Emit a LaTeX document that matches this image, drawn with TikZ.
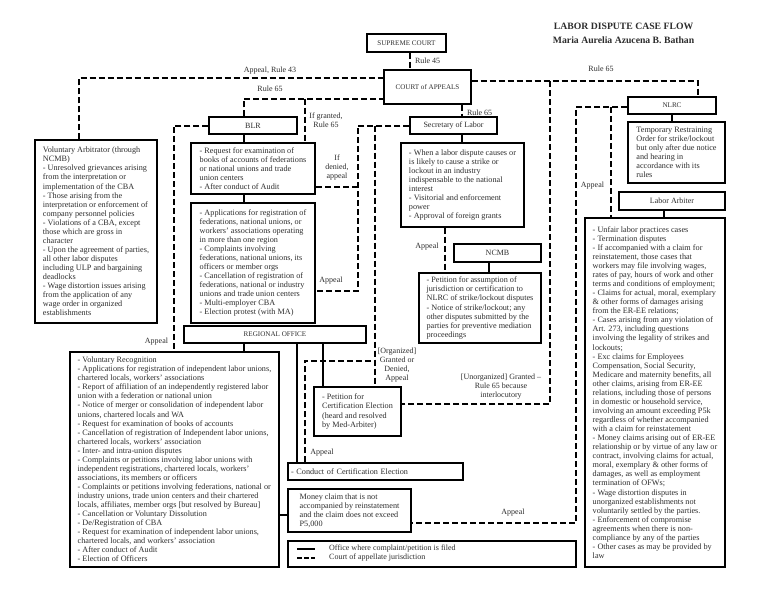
\documentclass[tikz,border=0pt]{standalone}
\usepackage{fontspec}
\setmainfont{Liberation Serif}
\usepackage{tikz}
\usetikzlibrary{positioning}
\definecolor{inkgray}{RGB}{45,45,45}

\begin{document}
\begin{tikzpicture}[x=1pt, y=-1pt,
				box/.style={draw, line width=1.3pt, inner xsep=6pt, inner ysep=2pt, align=left, text=inkgray, font=\fontsize{8.2}{9.06}\selectfont},
				office/.style={draw, line width=1.3pt, inner sep=0pt, text=inkgray, font=\fontsize{8}{9}\selectfont},
				caps/.style={font=\fontsize{7.1}{9}\selectfont},
				file/.style={line width=2pt},
				appeal/.style={line width=2pt, dash pattern=on 6pt off 3pt},
				lbl/.style={text=inkgray, font=\fontsize{8}{9}\selectfont, align=center, inner sep=1pt}]
				\useasboundingbox (0,0) rectangle (768,594);
				
				\node[text=inkgray, align=center, font=\fontsize{9.7}{14}\selectfont\bfseries] (title) at (623.6,33) {LABOR DISPUTE CASE FLOW\\Maria Aurelia Azucena B. Bathan};
				
				\node[office, caps, minimum width=79pt, minimum height=18pt] (sc) at (406.5,43) {SUPREME COURT};
				\node[office, caps, minimum width=87pt, minimum height=34pt] (coa) at (427.5,87) {COURT of APPEALS};
				\node[office, minimum width=88pt, minimum height=17pt] (blr) at (253,125.5) {BLR};
				\node[office, minimum width=87pt, minimum height=17pt] (sec) at (453.5,125.5) {Secretary of Labor};
				\node[office, caps, minimum width=88pt, minimum height=17pt] (nlrc) at (672,105.5) {NLRC};
				\node[office, minimum width=106pt, minimum height=18pt] (la) at (672,201) {Labor Arbiter};
				\node[office, minimum width=87pt, minimum height=18pt] (ncmb) at (497.5,253) {NCMB};
				\node[office, caps, minimum width=182pt, minimum height=17pt] (ro) at (275,334.5) {REGIONAL OFFICE};
				
				\node[box, minimum width=122pt, minimum height=183pt] (va) at (96,231.5) {Voluntary Arbitrator (through\\NCMB)\\- Unresolved grievances arising\\from the interpretation or\\implementation of the CBA\\- Those arising from the\\interpretation or enforcement of\\company personnel policies\\- Violations of a CBA, except\\those which are gross in\\character\\- Upon the agreement of parties,\\all other labor disputes\\including ULP and bargaining\\deadlocks\\- Wage distortion issues arising\\from the application of any\\wage order in organized\\establishments};
				\node[box, minimum width=124pt, minimum height=51pt] (blrone) at (253,168.5) {- Request for examination of\\books of accounts of federations\\or national unions and trade\\union centers\\- After conduct of Audit};
				\node[box, minimum width=124pt, minimum height=120pt] (blrtwo) at (253,263) {- Applications for registration of\\federations, national unions, or\\workers' associations operating\\in more than one region\\- Complaints involving\\federations, national unions, its\\officers or member orgs\\- Cancellation of registration of\\federations, national or industry\\unions and trade union centers\\- Multi-employer CBA\\- Election protest (with MA)};
				\node[box, minimum width=123pt, minimum height=84pt] (seclist) at (462.5,185) {- When a labor dispute causes or\\is likely to cause a strike or\\lockout in an industry\\indispensable to the national\\interest\\- Visitorial and enforcement\\power\\- Approval of foreign grants};
				\node[box, minimum width=122pt, minimum height=70pt] (ncmblist) at (480,308) {- Petition for assumption of\\jurisdiction or certification to\\NLRC of strike/lockout disputes\\- Notice of strike/lockout; any\\other disputes submitted by the\\parties for preventive mediation\\proceedings};
				\node[box, minimum width=97pt, minimum height=61pt] (tro) at (676.5,152.5) {Temporary Restraining\\Order for strike/lockout\\but only after due notice\\and hearing in\\accordance with its\\rules};
				\node[box, minimum width=140pt, minimum height=349pt] (lalist) at (655,392.5) {- Unfair labor practices cases\\- Termination disputes\\- If accompanied with a claim for\\reinstatement, those cases that\\workers may file involving wages,\\rates of pay, hours of work and other\\terms and conditions of employment;\\- Claims for actual, moral, exemplary\\\& other forms of damages arising\\from the ER-EE relations;\\- Cases arising from any violation of\\Art. 273, including questions\\involving the legality of strikes and\\lockouts;\\- Exc claims for Employees\\Compensation, Social Security,\\Medicare and maternity benefits, all\\other claims, arising from ER-EE\\relations, including those of persons\\in domestic or household service,\\involving an amount exceeding P5k\\regardless of whether accompanied\\with a claim for reinstatement\\- Money claims arising out of ER-EE\\relationship or by virtue of any law or\\contract, involving claims for actual,\\moral, exemplary \& other forms of\\damages, as well as employment\\termination of OFWs;\\- Wage distortion disputes in\\unorganized establishments not\\voluntarily settled by the parties.\\- Enforcement of compromise\\agreements when there is non-\\compliance by any of the parties\\- Other cases as may be provided by\\law};
				\node[box, minimum width=209pt, minimum height=215pt] (rolist) at (174.5,459.5) {- Voluntary Recognition\\- Applications for registration of independent labor unions,\\chartered locals, workers' associations\\- Report of affiliation of an independently registered labor\\union with a federation or national union\\- Notice of merger or consolidation of independent labor\\unions, chartered locals and WA\\- Request for examination of books of accounts\\- Cancellation of registration of Independent labor unions,\\chartered locals, workers' association\\- Inter- and intra-union disputes\\- Complaints or petitions involving labor unions with\\independent registrations, chartered locals, workers'\\associations, its members or officers\\- Complaints or petitions involving federations, national or\\industry unions, trade union centers and their chartered\\locals, affiliates, member orgs [but resolved by Bureau]\\- Cancellation or Voluntary Dissolution\\- De/Registration of CBA\\- Request for examination of independent labor unions,\\chartered locals, and workers' association\\- After conduct of Audit\\- Election of Officers};
				\node[box, minimum width=87pt, minimum height=49pt] (petition) at (357.5,411.5) {- Petition for\\Certification Election\\(heard and resolved\\by Med-Arbiter)};
				\node[box, inner xsep=3pt, text width=169pt, minimum height=17pt] (conduct) at (375.5,471.5) {- Conduct of Certification Election};
				\node[box, minimum width=123pt, minimum height=43pt] (money) at (349.5,510.5) {Money claim that is not\\accompanied by reinstatement\\and the claim does not exceed\\P5,000};
				\node[box, minimum width=288pt, minimum height=26pt] (legend) at (432,554) {};
				
				\coordinate (r43) at (79,78);
				\coordinate (blrr65) at (244,98.7);
				\coordinate (blrgr) at (305,98.7);
				\coordinate (r45) at (410,0);
				\coordinate (secr65) at (462,0);
				\coordinate (secden) at (358,125.5);
				\coordinate (blroneap) at (358,186.7);
				\coordinate (blrtwoap) at (358,290.7);
				\coordinate (secorg) at (375,125.5);
				\coordinate (ccejoin) at (305,360.7);
				\coordinate (nlrcr65) at (698,81);
				\coordinate (unorg) at (550,81);
				\coordinate (unorgb) at (550,404.3);
				\coordinate (nlrcap) at (576,107.3);
				\coordinate (moneyap) at (576,522.7);
				\coordinate (laap) at (611,107.3);
				\coordinate (roap) at (174,125.5);
				\coordinate (ncmbap) at (445,0);
				\coordinate (ncmbx) at (489,0);
				\coordinate (lax) at (664,0);
				\coordinate (petx) at (323,0);
				\coordinate (ccex) at (297,0);
				\coordinate (moneyy) at (0,515);
				
				\draw[appeal] (sc.south -| r45) -- (coa.north -| r45) node[midway, right, lbl, xshift=3pt] (r45lbl) {Rule 45};
				\draw[appeal] (va.north -| r43) -- (r43) -- (r43 -| coa.west);
				\draw[appeal] (blr.north -| blrr65) -- (blrr65) -- (blrr65 -| coa.west);
				\draw[appeal] (blrgr) -- (blrgr |- blrone.north);
				\draw[appeal] (coa.south -| secr65) -- (sec.north -| secr65) node[midway, right, lbl, xshift=3pt, yshift=-2pt] (secr65lbl) {Rule 65};
				\draw[appeal] (sec.west) -- (secden) -- (blrtwoap) -- (blrtwoap -| blrtwo.east);
				\draw[appeal] (blroneap) -- (blroneap -| blrone.east);
				\draw[appeal] (secorg) -- (secorg |- petition.north);
				\draw[appeal] (conduct.north -| ccejoin) -- (ccejoin) -- (ccejoin -| secorg);
				\draw[appeal] (nlrcr65 -| coa.east) -- (nlrcr65) -- (nlrcr65 |- nlrc.north);
				\draw[appeal] (unorg) -- (unorgb) -- (unorgb -| petition.east);
				\draw[appeal] (nlrcap -| nlrc.west) -- (nlrcap) -- (moneyap) -- (moneyap -| money.east);
				\draw[appeal] (laap) -- (laap |- lalist.north);
				\draw[appeal] (blr.west) -- (roap) -- (roap |- rolist.north);
				\draw[appeal] (seclist.south -| ncmbap) -- (ncmblist.north -| ncmbap);
				
				\draw[file] (blr.south -| blrr65) -- (blrone.north -| blrr65);
				\draw[file] (blrone.south -| blrr65) -- (blrtwo.north -| blrr65);
				\draw[file] (sec.south -| secr65) -- (seclist.north -| secr65);
				\draw[file] (ncmb.south -| ncmbx) -- (ncmblist.north -| ncmbx);
				\draw[file] (nlrc.south) -- (tro.north -| nlrc.south);
				\draw[file] (la.south -| lax) -- (lalist.north -| lax);
				\draw[file] (ro.south -| blrr65) -- (rolist.north -| blrr65);
				\draw[file] (ro.south -| petx) -- (petition.north -| petx);
				\draw[file] (ro.south -| ccex) -- (conduct.north -| ccex);
				\draw[file] (rolist.east |- moneyy) -- (money.west |- moneyy);
				
				\node[lbl] (r43lbl) at (270,71) {Appeal, Rule 43};
				\node[lbl] (blrr65lbl) at (270,89) {Rule 65};
				\node[lbl] (grantlbl) at (326,120.5) {If granted,\\Rule 65};
				\node[lbl] (denylbl) at (337,168) {If\\denied,\\appeal};
				\node[lbl] (blrtwolbl) at (331,281) {Appeal};
				\node[lbl] (roaplbl) at (156.5,342) {Appeal};
				\node[lbl] (ncmblbl) at (427,247) {Appeal};
				\node[lbl] (orglbl) at (397,365) {[Organized]\\Granted or\\Denied,\\Appeal};
				\node[lbl] (unorglbl) at (501,387) {[Unorganized] Granted –\\Rule 65 because\\interlocutory};
				\node[lbl] (ccelbl) at (322,452.7) {Appeal};
				\node[lbl] (nlrcr65lbl) at (601,69) {Rule 65};
				\node[lbl] (lalbl) at (592.5,185.7) {Appeal};
				\node[lbl] (moneylbl) at (513,513) {Appeal};
				
				\coordinate (lgone) at (297,548.7);
				\coordinate (lgtwo) at (297,558);
				\draw[file] (lgone) -- ++(18,0);
				\draw[appeal, dash pattern=on 5pt off 2pt] (lgtwo) -- ++(18,0);
				\node[lbl, anchor=west] (lgonetxt) at (328,548.7) {Office where complaint/petition is filed};
				\node[lbl, anchor=west] (lgtwotxt) at (328,558) {Court of appellate jurisdiction};
			\end{tikzpicture}
\end{document}
